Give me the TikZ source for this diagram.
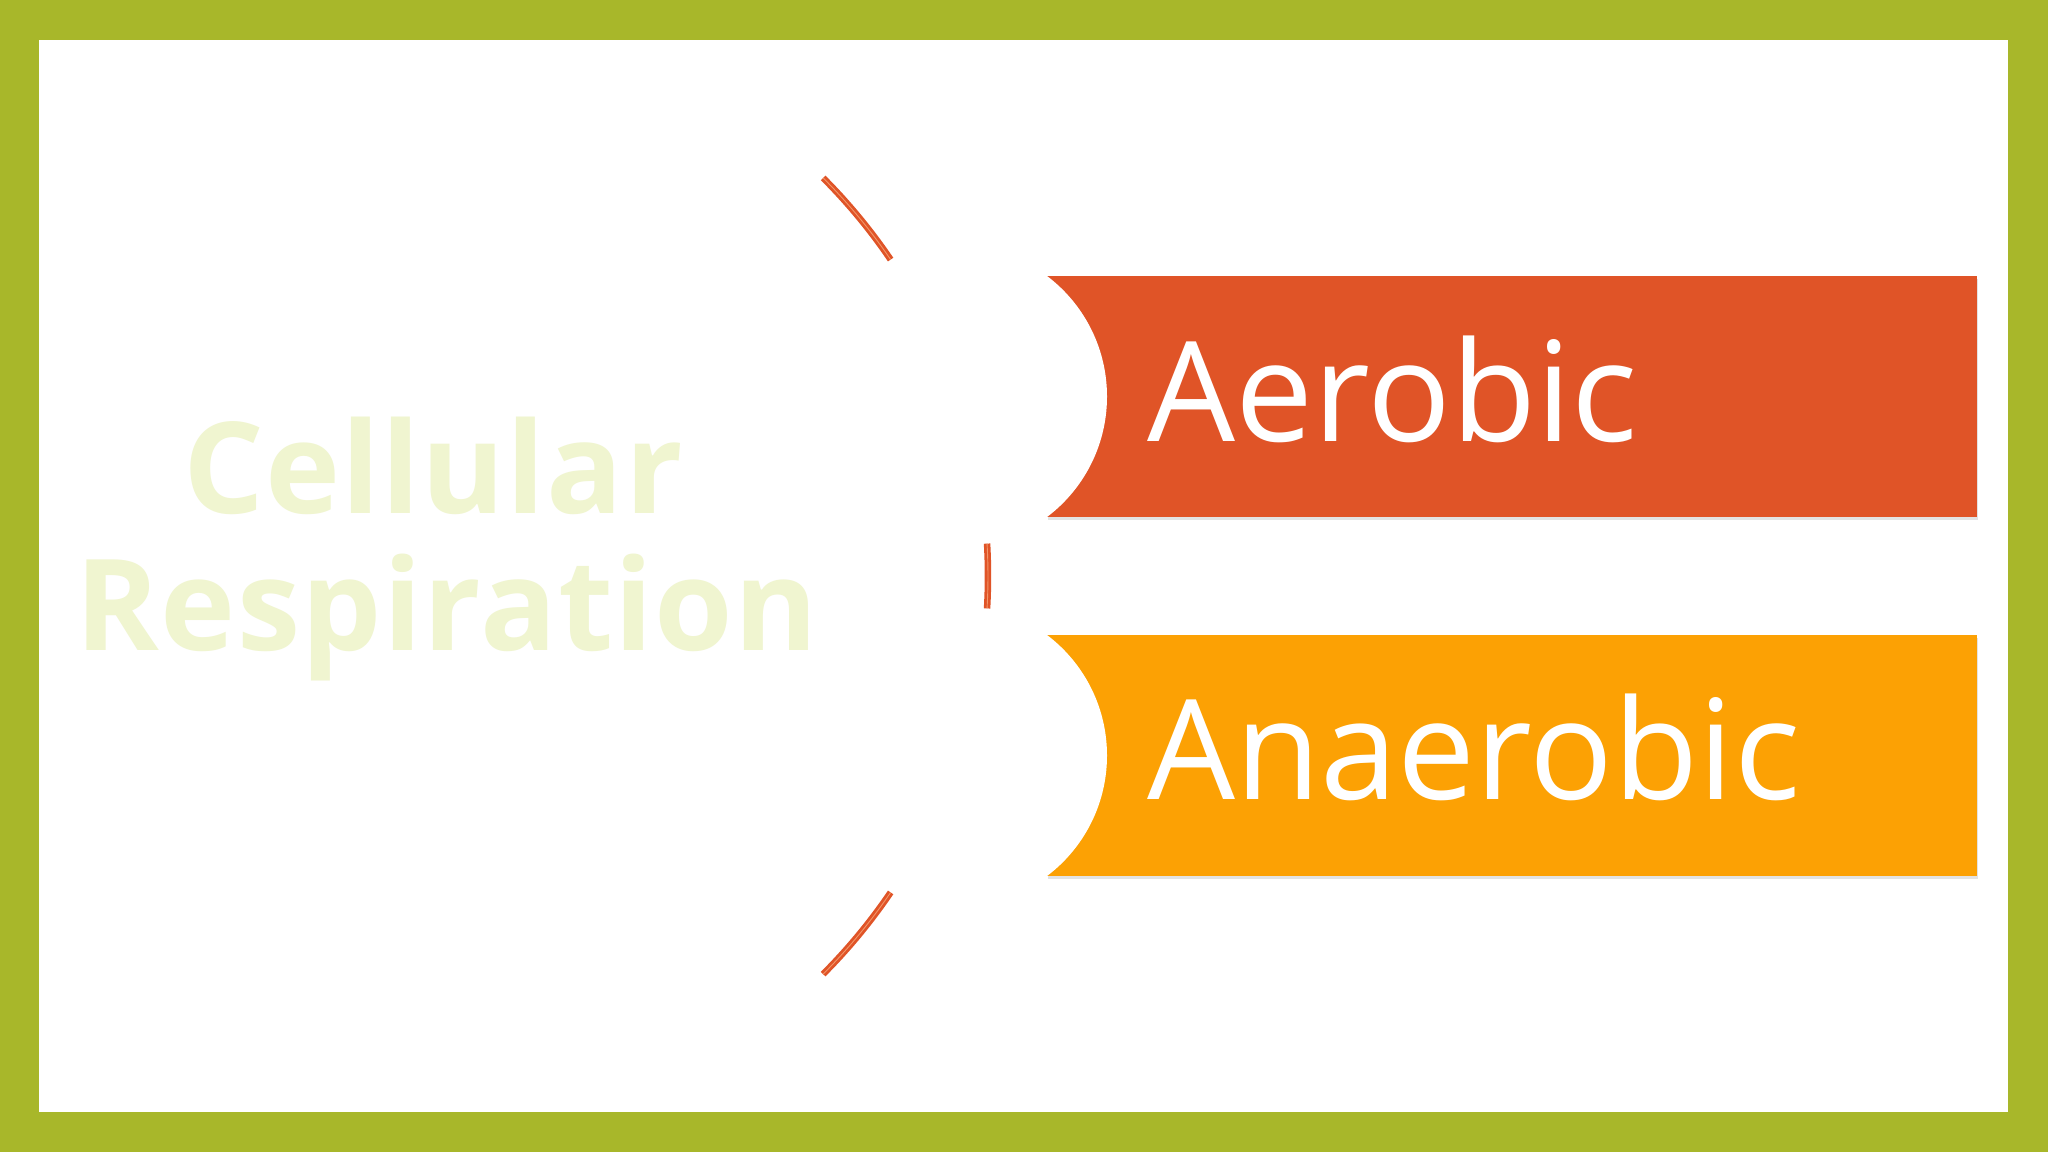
\documentclass[tikz,border=0pt]{standalone}
\usepackage{fontspec}
\setmainfont{Open Sans}
\usetikzlibrary{shadows,calc}
\definecolor{frameG}{RGB}{168,183,42}
\definecolor{aeroC}{RGB}{224,84,39}
\definecolor{anaeC}{RGB}{252,161,4}
\definecolor{titleC}{RGB}{240,245,208}
\definecolor{arcC}{RGB}{224,84,39}
\definecolor{arcIn}{RGB}{242,150,105}
\newcommand{\spacedtitle}[1]{{\addfontfeature{LetterSpace=1.1}#1}}
\begin{document}
\begin{tikzpicture}[x=1pt,y=-1pt,
  bar/.style={draw=none, minimum width=930pt, minimum height=241pt, inner sep=0pt,
    drop shadow={shadow xshift=1pt,shadow yshift=-3pt,opacity=0.22}},
  cutcircle/.style={fill=white},
  arcline/.style={draw=arcC, line width=2.8pt, double=arcIn, double distance=0.9pt},
  barlabel/.style={anchor=base west, text=white, inner sep=0pt, font=\fontsize{139}{160}\selectfont},
  titletext/.style={anchor=base, text=titleC, inner sep=0pt, font=\bfseries\fontsize{127}{139}\selectfont}]
\fill[frameG] (0,0) rectangle (2048,1152);
\fill[white] (39,40) rectangle (2008,1112);
\useasboundingbox (0,0) rectangle (2048,1152);
\coordinate (ctr) at (425,576);
% bars
\node[bar, fill=aeroC] (aero) at (1512,396.5) {};
\node[bar, fill=anaeC] (anae) at (1512,755.5) {};
\fill[cutcircle] (956,396.5) circle (151pt);
\fill[cutcircle] (956,755.5) circle (151pt);
% arcs
\draw[arcline] ($(ctr)+(45:563pt)$) coordinate (a1) arc[start angle=45, end angle=34.2, radius=563pt];
\draw[arcline] ($(ctr)+(3.3:563pt)$) coordinate (a2) arc[start angle=3.3, end angle=-3.3, radius=563pt];
\draw[arcline] ($(ctr)+(-34.2:563pt)$) coordinate (a3) arc[start angle=-34.2, end angle=-45, radius=563pt];
% texts
\node[barlabel] (aerotxt) at (1147,441) {Aerobic};
\node[barlabel] (anaetxt) at (1147,799) {Anaerobic};
\node[titletext] (t1) at (433,513) {\spacedtitle{Cellular}};
\node[titletext] (t2) at (447,650) {\spacedtitle{Respiration}};
\end{tikzpicture}
\end{document}
